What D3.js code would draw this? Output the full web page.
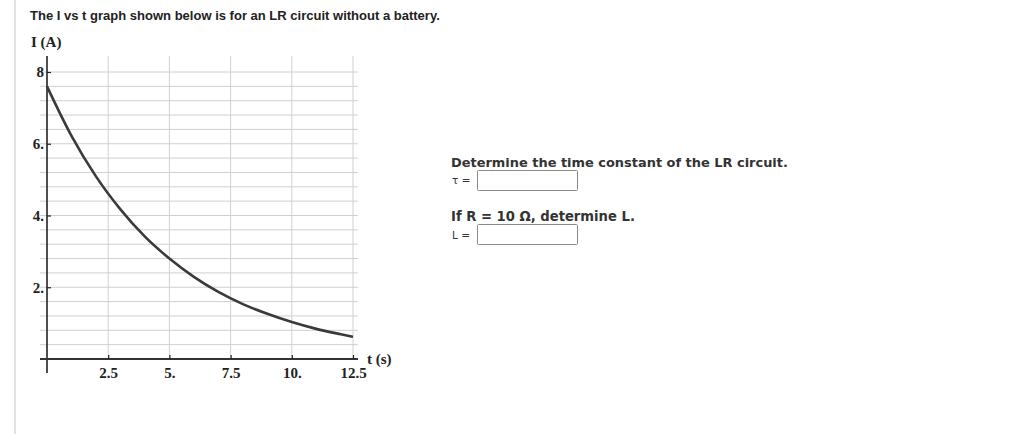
<!DOCTYPE html>
<html>
<head>
<meta charset="utf-8">
<script src="https://cdn.jsdelivr.net/npm/d3@7/dist/d3.min.js"></script>
<style>
  html, body { margin: 0; padding: 0; background: #fff; }
  svg { display: block; }
</style>
</head>
<body>
<svg id="chart" width="1024" height="434"></svg>
<script>
// ---- data ----
const timeValues = [0, 1, 2, 3, 4, 5, 6, 7, 8, 9, 10, 11, 12, 12.5];
const currentValues = [7.6, 6.22, 5.09, 4.17, 3.41, 2.80, 2.29, 1.87, 1.53, 1.26, 1.03, 0.84, 0.69, 0.62];
const xTickValues = [2.5, 5, 7.5, 10, 12.5];
const xTickLabels = ["2.5", "5.", "7.5", "10.", "12.5"];
const yTickValues = [2, 4, 6, 8];
const yTickLabels = ["2.", "4.", "6.", "8"];
const yGridStep = 0.4;

const titleText = "The I vs t graph shown below is for an LR circuit without a battery.";
const yAxisTitle = "I (A)";
const xAxisTitle = "t (s)";
const question1 = "Determine the time constant of the LR circuit.";
const answer1Label = "τ =";
const question2 = "If R = 10 Ω, determine L.";
const answer2Label = "L =";

// ---- drawing ----
const svg = d3.select("#chart");

const x = d3.scaleLinear().domain([0, 12.5]).range([47, 353]);
const y = d3.scaleLinear().domain([0, 8]).range([359, 72]);

const serif = "Liberation Serif, Times New Roman, serif";

function fitWidth(sel, target) {
  const w = sel.node().getComputedTextLength();
  const fs = parseFloat(sel.attr("font-size"));
  sel.attr("font-size", (fs * target / w).toFixed(2));
}

// page left border
svg.append("line")
  .attr("x1", 15).attr("x2", 15).attr("y1", 0).attr("y2", 434)
  .attr("stroke", "#e2e2e2").attr("stroke-width", 2);

// title
const t = svg.append("text")
  .attr("x", 30).attr("y", 20)
  .attr("font-family", "Liberation Sans, Arial, sans-serif")
  .attr("font-weight", "bold")
  .attr("font-size", 12)
  .attr("fill", "#222")
  .text(titleText);
fitWidth(t, 410);

// grid
const yGrid = d3.range(yGridStep, 8 + 1e-6, yGridStep);
svg.append("g").selectAll("line").data(yGrid).join("line")
  .attr("x1", 40).attr("x2", 358)
  .attr("y1", d => y(d)).attr("y2", d => y(d))
  .attr("stroke", "#d0d0d0").attr("stroke-width", 1);
svg.append("g").selectAll("line").data(xTickValues).join("line")
  .attr("x1", d => x(d)).attr("x2", d => x(d))
  .attr("y1", 56).attr("y2", y(0))
  .attr("stroke", "#d0d0d0").attr("stroke-width", 1);

// axes lines
svg.append("line")
  .attr("x1", x(0)).attr("x2", x(0)).attr("y1", 56).attr("y2", 373)
  .attr("stroke", "#222").attr("stroke-width", 1.6);
svg.append("line")
  .attr("x1", 40).attr("x2", 358).attr("y1", y(0)).attr("y2", y(0))
  .attr("stroke", "#333").attr("stroke-width", 1.8);

// y axis ticks and labels
const yAxis = d3.axisLeft(y)
  .tickValues(yTickValues)
  .tickSize(-4)
  .tickPadding(3)
  .tickFormat((d, i) => yTickLabels[i]);
const gy = svg.append("g").attr("transform", `translate(${x(0)},0)`).call(yAxis);
gy.select(".domain").remove();
gy.selectAll(".tick line").attr("stroke", "#222").attr("stroke-width", 1.2);
gy.selectAll(".tick text")
  .attr("font-family", serif)
  .attr("font-weight", "bold")
  .attr("font-size", 15)
  .attr("fill", "#222");

// x axis ticks and labels
const xAxis = d3.axisBottom(x)
  .tickValues(xTickValues)
  .tickSize(-4)
  .tickPadding(8)
  .tickFormat((d, i) => xTickLabels[i]);
const gx = svg.append("g").attr("transform", `translate(0,${y(0)})`).call(xAxis);
gx.select(".domain").remove();
gx.selectAll(".tick line").attr("stroke", "#222").attr("stroke-width", 1.2);
gx.selectAll(".tick text")
  .attr("font-family", serif)
  .attr("font-weight", "bold")
  .attr("font-size", 15)
  .attr("fill", "#222");

// axis titles
svg.append("text")
  .attr("x", 31).attr("y", 47)
  .attr("font-family", serif)
  .attr("font-weight", "bold")
  .attr("font-size", 15)
  .attr("fill", "#222")
  .text(yAxisTitle);
svg.append("text")
  .attr("x", 367).attr("y", 364)
  .attr("font-family", serif)
  .attr("font-weight", "bold")
  .attr("font-size", 15)
  .attr("fill", "#222")
  .text(xAxisTitle);

// curve
const pts = timeValues.map((tv, i) => [tv, currentValues[i]]);
svg.append("path")
  .datum(pts)
  .attr("fill", "none")
  .attr("stroke", "#3a3a3a")
  .attr("stroke-width", 2.6)
  .attr("d", d3.line().x(d => x(d[0])).y(d => y(d[1])).curve(d3.curveMonotoneX));

// questions on the right
const qFont = "DejaVu Sans, Verdana, sans-serif";
const q1 = svg.append("text")
  .attr("x", 451).attr("y", 167)
  .attr("font-family", qFont).attr("font-weight", "bold")
  .attr("font-size", 12).attr("fill", "#333")
  .text(question1);
fitWidth(q1, 337);

svg.append("text")
  .attr("x", 452).attr("y", 184)
  .attr("font-family", qFont)
  .attr("font-size", 10.5).attr("fill", "#333")
  .text(answer1Label);
svg.append("rect")
  .attr("x", 477.5).attr("y", 170.5).attr("width", 100).attr("height", 20)
  .attr("fill", "#fff").attr("stroke", "#8a8a8a").attr("stroke-width", 1)
  .attr("rx", 1);

const q2 = svg.append("text")
  .attr("x", 451).attr("y", 221)
  .attr("font-family", qFont).attr("font-weight", "bold")
  .attr("font-size", 12).attr("fill", "#333")
  .text(question2);
fitWidth(q2, 184);

svg.append("text")
  .attr("x", 452).attr("y", 239)
  .attr("font-family", qFont)
  .attr("font-size", 10.5).attr("fill", "#333")
  .text(answer2Label);
svg.append("rect")
  .attr("x", 477.5).attr("y", 224.5).attr("width", 100).attr("height", 20)
  .attr("fill", "#fff").attr("stroke", "#8a8a8a").attr("stroke-width", 1)
  .attr("rx", 1);
</script>
</body>
</html>
